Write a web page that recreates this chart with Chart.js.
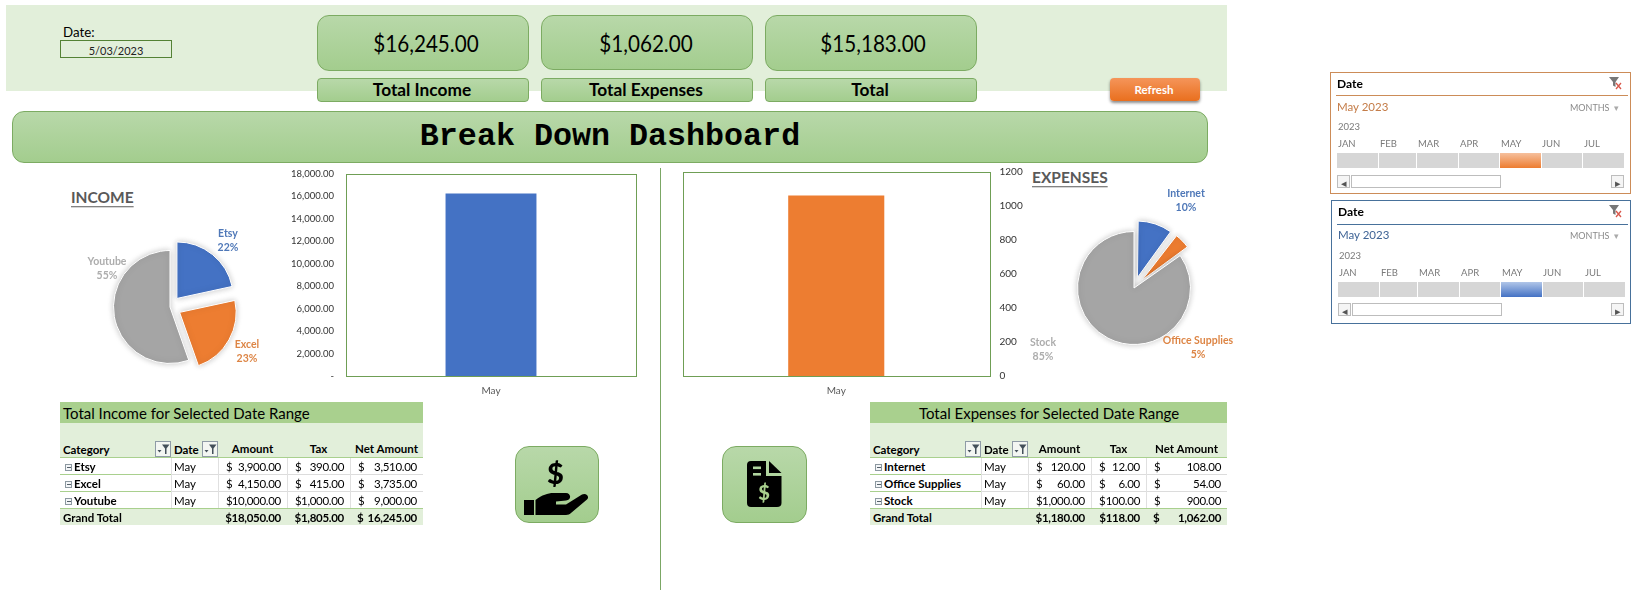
<!DOCTYPE html>
<html><head><meta charset="utf-8">
<script src="https://cdn.jsdelivr.net/npm/chart.js@4"></script>
<style>
html,body{margin:0;padding:0;background:#fff;width:1639px;height:590px;overflow:hidden}
#r{position:relative;width:1639px;height:590px;font-family:Lato,"Open Sans",sans-serif;color:#000}
.a{position:absolute;box-sizing:border-box}
.t{position:absolute;white-space:nowrap;line-height:1}
.c{background:linear-gradient(#b8d8a9,#a3cd8e);border:1px solid #7cab62}
canvas{position:absolute}
</style></head><body><div id="r"></div>
<script>
const months=['May'];
const incomeTotal=[16245];
const expenseTotal=[1062];
const incomeCats=['Etsy','Excel','Youtube'];
const incomeAmount=['3,900.00','4,150.00','10,000.00'];
const incomeTax=['390.00','415.00','1,000.00'];
const incomeNet=['3,510.00','3,735.00','9,000.00'];
const incomeNetValues=[3510,3735,9000];
const incomePct=['22%','23%','55%'];
const expenseCats=['Internet','Office Supplies','Stock'];
const expenseAmount=['120.00','60.00','1,000.00'];
const expenseTax=['12.00','6.00','100.00'];
const expenseNet=['108.00','54.00','900.00'];
const expenseNetValues=[108,54,900];
const expensePct=['10%','5%','85%'];
const pieColors=['#4472c4','#ed7d31','#a5a5a5'];
const sliceOffsets=[44,44,0];
const sliderMonths=['JAN','FEB','MAR','APR','MAY','JUN','JUL'];

const R=document.getElementById('r');
function box(x,y,w,h,css,cls){const d=document.createElement('div');d.className='a '+(cls||'');
 d.style.cssText=`left:${x}px;top:${y}px;width:${w}px;height:${h}px;`+(css||'');R.appendChild(d);return d;}
function txt(s,x,y,o){o=o||{};const d=document.createElement('div');d.className='t';d.textContent=s;
 const ax=o.a==='c'?'-50%':o.a==='r'?'-100%':'0';
 const sx=o.sx?` scaleX(${o.sx})`:'';
 const origin=o.a==='c'?'center':o.a==='r'?'right':'left';
 d.style.cssText=`left:${x}px;top:${y}px;transform:translate(${ax},-50%)${sx};transform-origin:${origin} center;font-size:${o.s||12}px;font-weight:${o.w||(o.b?700:400)};color:${o.c||'#000'};`+(o.css||'');
 R.appendChild(d);return d;}

// top band and cards
box(6,5,1221,86,'background:#e2efda');
txt('Date:',63,32,{s:14,sx:.95});
box(60,40,112,18,'border:1px solid #548235;background:#e2efda');
txt('5/03/2023',116,50,{s:11,a:'c',c:'#222'});
[[317,212,71,'$16,245.00','Total Income',426],[541,212,70,'$1,062.00','Total Expenses',646],[765,212,71,'$15,183.00','Total',873]].forEach(k=>{
 box(k[0],15,k[1],k[2]-15,'border-radius:12px','c');
 txt(k[3],k[5],43,{s:24,a:'c',sx:.86});
 box(k[0],78,k[1],24,'border-radius:4px','c');
 txt(k[4],k[0]+105,89.5,{s:17.3,b:1,a:'c'});
});
box(1110,78,90,23,'background:linear-gradient(#f5955a,#e96f1e);border-radius:4px;box-shadow:0 2px 3px rgba(0,0,0,.45)');
txt('Refresh',1154,90,{s:11.5,b:1,a:'c',c:'#fff'});
box(12,111,1196,52,'border-radius:12px','c');
txt('Break Down Dashboard',610,138,{s:31.7,b:1,a:'c',css:'font-family:"Liberation Mono",monospace;'});
box(660,168,1.2,422,'background:#7ba765');

// headings
const ul='text-decoration:underline;text-decoration-thickness:1px;text-underline-offset:3px;';
txt('INCOME',71,198,{s:15.5,b:1,c:'#595959',css:ul});
txt('EXPENSES',1032,177.5,{s:15.5,b:1,c:'#595959',css:ul});

// charts
function mk(x,y,w,h){const c=document.createElement('canvas');c.width=w;c.height=h;c.style.left=x+'px';c.style.top=y+'px';c.style.width=w+'px';c.style.height=h+'px';R.appendChild(c);return c;}
const frame={id:'frame',afterDatasetsDraw(ch){const X=ch.scales.x,Y=ch.scales.y,g=ch.ctx;g.save();g.strokeStyle='#6f9e55';g.lineWidth=1;g.strokeRect(Math.round(X.left)+.5,Math.round(Y.top)+.5,Math.round(X.right-X.left),Math.round(Y.bottom-Y.top));g.restore();}};
const shadow={id:'shadow',beforeDatasetDraw(ch){const g=ch.ctx;g.save();g.shadowColor='rgba(0,0,0,.22)';g.shadowBlur=6;g.shadowOffsetX=0;g.shadowOffsetY=0;},afterDatasetDraw(ch){ch.ctx.restore();}};
// Chart.js enlarges narrow exploded slices; undo that so every slice keeps the pie's radius
const sameRadius={id:'sameRadius',afterDatasetsUpdate(ch){ch.getDatasetMeta(0).data.forEach(arc=>{
 const off=(arc.options.offset||0)/4,circ=arc.circumference;
 arc.outerRadius=Math.max(arc.outerRadius-off*(1-Math.sin(Math.min(Math.PI,circ))),0);});}};
function barChart(canvas,vals,color,max,step,side,fmt,pad){
 return new Chart(canvas,{type:'bar',plugins:[frame],data:{labels:months,datasets:[{data:vals,backgroundColor:color,barPercentage:0.3135,categoryPercentage:1}]},
 options:{responsive:false,animation:false,layout:{padding:pad},plugins:{legend:{display:false},tooltip:{enabled:false}},
 scales:{x:{grid:{display:false},border:{display:false},ticks:{color:'#595959',font:{family:'Lato',size:10},padding:1},afterFit(s){s.height=24}},
 y:{position:side,min:0,max:max,grid:{display:false,drawTicks:false},border:{display:false},afterFit(s){s.width=side==='left'?66:49.5},
 ticks:{stepSize:step,color:'#333',font:{family:'Lato',size:side==='left'?9.5:10},padding:side==='left'?12:10,mirror:false,callback:fmt}}}}});
}
const money=v=>v===0?'-':v.toLocaleString('en-US',{minimumFractionDigits:2,maximumFractionDigits:2});
barChart(mk(280,156,366,244),incomeTotal,'#4472c4',18000,2000,'left',money,{top:2,right:10,left:0,bottom:0});
barChart(mk(673,156,366,244),expenseTotal,'#ed7d31',1200,200,'right',v=>String(v),{top:2,left:10,right:0,bottom:0});
function pie(cx,cy,vals,labels){
 return new Chart(mk(cx-110,cy-110,220,220),{type:'pie',plugins:[sameRadius,shadow],data:{labels:labels,datasets:[{data:vals,backgroundColor:pieColors,borderColor:'#fff',borderWidth:1,offset:sliceOffsets}]},
 options:{responsive:false,animation:false,layout:{padding:31},plugins:{legend:{display:false},tooltip:{enabled:false}}}});
}
pie(170,307,incomeNetValues,incomeCats);
pie(1133.5,288,expenseNetValues,expenseCats);
function pl(n,p,x,y,c){txt(n,x,y,{s:10.5,b:1,a:'c',c:c});txt(p,x,y+14,{s:10.5,b:1,a:'c',c:c});}
const labelColors=['#4f78b8','#dd8545','#adadad'];
pl(incomeCats[0],incomePct[0],228,233,labelColors[0]);
pl(incomeCats[1],incomePct[1],247,344,labelColors[1]);
pl(incomeCats[2],incomePct[2],107,261,labelColors[2]);
pl(expenseCats[0],expensePct[0],1186,193,labelColors[0]);
pl(expenseCats[1],expensePct[1],1198,340,labelColors[1]);
pl(expenseCats[2],expensePct[2],1043,342,labelColors[2]);

// pivot tables
function funnel(x){const b=box(x,441,16.5,16,'border:1px solid #8f9ba6;background:#f3f6f2');
 b.innerHTML='<svg width="15" height="14" style="display:block"><path d="M6 2.5h7.5L10.5 6.5V12H9V6.5Z" fill="#44505a"/><path d="M1.5 8h4L3.5 10.5Z" fill="#44505a"/></svg>';}
function table(title,titleX,titleAlign,cols,cats,am,tx,nt,tot){
 const [c1,c2,c3,c4,c5,c6]=cols;
 const tight='letter-spacing:-.3px;';
 box(c1,402,c6-c1,21,'background:#a9d08e');
 box(c1,423,c6-c1,34,'background:#e2efda');
 box(c1,508,c6-c1,17,'background:#e2efda');
 txt(title,titleX,413,{s:15,a:titleAlign});
 txt('Category',c1+3,450,{s:11.5,b:1});funnel(c2-16.5);
 txt('Date',c2+3,450,{s:11.5,b:1});funnel(c3-16.5);
 txt('Amount',(c3+c4)/2,449,{s:11.5,b:1,a:'c'});
 txt('Tax',(c4+c5)/2,449,{s:11.5,b:1,a:'c'});
 txt('Net Amount',(c5+c6)/2,449,{s:11.5,b:1,a:'c'});
 [457,474,491,508].forEach(y=>{box(c1,y,c2-c1,1,'background:#a9d08e');
  box(c2,y,c6-c2,1,`background:${y===457||y===508?'#a9d08e':'#dcdcdc'}`);});
 [c2,c3,c4,c5].forEach(v=>box(v,458,1,50,'background:#e0e0e0'));
 cats.forEach((n,i)=>{const y=467+i*17;
  box(c1+5,y-3.5,7,7,'border:1px solid #8c98a0;background:#f4f6f8');
  box(c1+6.5,y-.5,4,1,'background:#55606a');
  txt(n,c1+14,y,{s:11.5,b:1});
  txt(months[0],c2+3,y,{s:11.5});
  [[c3,c4,am[i]],[c4,c5,tx[i]],[c5,c6,nt[i]]].forEach(q=>{
   txt('$',q[0]+8,y,{s:11.5});
   txt(q[2],q[1]-6,y,{s:11.5,a:'r',css:tight});
  });
 });
 txt('Grand Total',c1+3,518,{s:11.5,b:1});
 txt('$'+tot[0],c4-6,518,{s:11.5,b:1,a:'r',css:tight});
 txt('$'+tot[1],c5-6,518,{s:11.5,b:1,a:'r',css:tight});
 txt('$',c5+7,518,{s:11.5,b:1});
 txt(tot[2],c6-6,518,{s:11.5,b:1,a:'r',css:tight});
}
table('Total Income for Selected Date Range',63,'l',[60,171,218,287,350,423],incomeCats,incomeAmount,incomeTax,incomeNet,['18,050.00','1,805.00','16,245.00']);
table('Total Expenses for Selected Date Range',1049,'c',[870,981,1028,1091,1146,1227],expenseCats,expenseAmount,expenseTax,expenseNet,['1,180.00','118.00','1,062.00']);

// icon buttons
box(514.5,446,84.5,77,'border-radius:14px','c');
box(722,446,85,77,'border-radius:14px','c');
const ic=document.createElementNS('http://www.w3.org/2000/svg','svg');
ic.setAttribute('width','1639');ic.setAttribute('height','590');ic.style.cssText='position:absolute;left:0;top:0;pointer-events:none';
ic.innerHTML='<path d="M524 500h10v15h-10zM535.5 500C542 495 548 493 553 493H566C571 493 572 500 566 500.5L556 501.5V504.5H566L582 494.5C586 492.5 590 496.5 587 499.5L571 513C570 514 568 515 566 515H535.5Z" fill="#000"/>'+
 '<path d="M751 461H766V476H781.5V503Q781.5 507 777 507H751Q747 507 747 503V465Q747 461 751 461Z" fill="#000"/><path d="M769 461L781.5 473H769Z" fill="#000"/>'+
 '<rect x="753" y="466.5" width="8" height="2.6" fill="#b0d49f"/><rect x="753" y="473" width="8" height="2.6" fill="#b0d49f"/>';
R.appendChild(ic);
txt('$',555.5,472,{s:29,w:900,a:'c'});
txt('$',764,492,{s:20,w:900,a:'c',c:'#a9d08e'});

// slicers
function slicer(x,y,h,d,col,text,g1,g2){
 box(x,y,1631-x,h,`border:1.3px solid ${col};background:#fff`);
 txt('Date',x+7,y+12,{s:12,b:1});
 const fi=document.createElementNS('http://www.w3.org/2000/svg','svg');
 fi.setAttribute('width','16');fi.setAttribute('height','16');fi.style.cssText=`position:absolute;left:1608px;top:${y+4}px`;
 fi.innerHTML='<path d="M1 1h10L7.5 6v5L5 9.5V6Z" fill="#777"/><path d="M8 7l5 6M13 7l-5 6" stroke="#d9574a" stroke-width="1.3"/>';R.appendChild(fi);
 box(x+6,y+23+d,1628-x-6,1,`background:${col}`);
 txt('May 2023',x+7,y+35,{s:11.5,c:text});
 txt('MONTHS',1570,y+35,{s:9,c:'#8a8a8a'});
 txt('▾',1616,y+35,{s:9,c:'#aaa',a:'c'});
 txt('2023',x+8,y+55+d,{s:9.5,c:'#7a7a7a'});
 const xs=[7,49,87,129,170,211,253];
 const cells=[[7,41],[49,37],[87,41],[129,40],[170,41],[212,40],[253,41]];
 sliderMonths.forEach((m,i)=>{
  txt(m,x+xs[i]+1,y+72+d,{s:9.5,c:'#7a7a7a'});
  box(x+cells[i][0],y+81+d,cells[i][1],15,i===4?`background:linear-gradient(${g1},${g2})`:'background:#d6d6d6');
 });
 box(x+7,y+103,13,13,'border:1px solid #bdbdbd;background:#f5f5f5');
 txt('◂',x+13.5,y+109.5,{s:11,c:'#555',a:'c'});
 box(x+21,y+103,150,13,'border:1px solid #bdbdbd;background:#fff');
 box(1611,y+103,13,13,'border:1px solid #bdbdbd;background:#f5f5f5');
 txt('▸',1617.5,y+109.5,{s:11,c:'#555',a:'c'});
}
slicer(1330,72,122,0,'#cc8c58','#c47c48','#f6c09d','#ed7d31');
slicer(1331,200,124,1,'#48719b','#3f6496','#b0c5e8','#4472c4');
</script></body></html>
